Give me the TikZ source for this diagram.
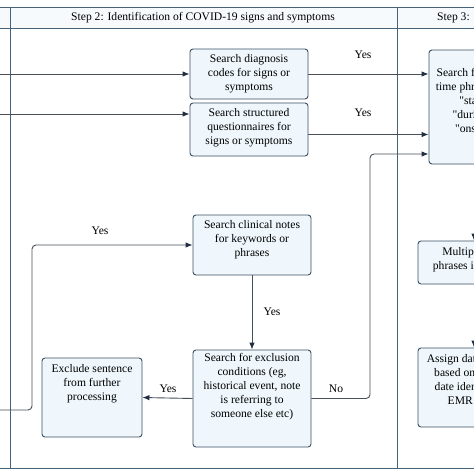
\documentclass[tikz,border=0pt]{standalone}
\usepackage{fontspec}
\setmainfont{Liberation Serif}[Ligatures=TeXOff]
\usetikzlibrary{arrows.meta,positioning}
\definecolor{frameline}{RGB}{68,98,122}
\definecolor{hdrfill}{RGB}{246,250,253}
\definecolor{boxfill}{RGB}{239,247,252}
\definecolor{boxline}{RGB}{60,80,98}
\definecolor{flowline}{RGB}{72,80,90}
\definecolor{headclr}{RGB}{32,46,66}
\begin{document}
\begin{tikzpicture}[x=1pt,y=1pt,yscale=-1,
  box/.style={draw=boxline,fill=boxfill,rounded corners=3pt,line width=0.9pt,inner sep=0pt},
  txt/.style={align=center,inner sep=0pt,font=\fontsize{11.6}{14}\selectfont},
  lbl/.style={inner sep=0pt,font=\fontsize{11.6}{14}\selectfont},
  flow/.style={draw=flowline,line width=0.9pt,-{Latex[length=7pt,width=5.5pt,color=headclr]}},
  frame/.style={draw=frameline,line width=0.9pt}]
\useasboundingbox (0,0) rectangle (474,474);
\clip (0,0) rectangle (474,474);
\fill[white] (0,0) rectangle (474,474);
% swimlane frame
\fill[hdrfill] (-5,7) rectangle (480,28);
\draw[frame] (-5,7) -- (480,7);
\draw[frame] (-5,28) -- (480,28);
\draw[frame] (-5,468) -- (480,468);
\draw[frame] (10,7) -- (10,468);
\draw[frame] (397,7) -- (397,468);
\node[lbl] (hdrTwo) at (203,17.5) {Step 2: Identification of COVID-19 signs and symptoms};
\node[lbl,anchor=west] (hdrThree) at (437,17.5) {Step 3: Identification of dates};
% boxes of step 2
\node[box,minimum width=118,minimum height=50] (diag) at (249,74) {};
\node[txt] (diagText) at (249,74) {Search diagnosis\\codes for signs or\\symptoms};
\node[box,minimum width=118,minimum height=53] (quest) at (249,129.5) {};
\node[txt] (questText) at (249,127.5) {Search structured\\questionnaires for\\signs or symptoms};
\node[box,minimum width=118,minimum height=60] (notes) at (252,245) {};
\node[txt] (notesText) at (252,240) {Search clinical notes\\for keywords or\\phrases};
\node[box,minimum width=118,minimum height=97] (excl) at (252,398.5) {};
\node[txt] (exclText) at (252,386.5) {Search for exclusion\\conditions (eg,\\historical event, note\\is referring to\\someone else etc)};
\node[box,minimum width=100,minimum height=79] (drop) at (92,397.5) {};
\node[txt] (dropText) at (92,384) {Exclude sentence\\from further\\processing};
% boxes of step 3
\node[box,minimum width=90,minimum height=114] (timeph) at (474,107) {};
\node[txt] (timephText) at (474,102) {Search for dates\\time phrases (eg\\"start"\\"during",\\"onset")};
\node[box,minimum width=112,minimum height=43] (multi) at (474,262.5) {};
\node[txt] (multiText) at (474,259.5) {Multiple time\\phrases identified};
\node[box,minimum width=112,minimum height=79] (assign) at (474,387.5) {};
\node[txt] (assignText) at (474,379) {Assign date of onset\\based on the first\\date identified in\\EMR notes};
% connectors
\coordinate (fromDiag) at (-20,74);
\coordinate (fromQuest) at (-20,114);
\coordinate (fromNotes) at (-20,410);
\coordinate (noBend) at (370,154);
\draw[flow] (fromDiag) -- (diag.west);
\draw[flow] (fromQuest) -- (fromQuest -| quest.west);
\draw[flow] (diag.east) -- (diag.east -| timeph.west);
\draw[flow] ([yshift=5pt]quest.east) -- ([yshift=5pt]quest.east -| timeph.west);
\draw[flow,rounded corners=4pt] (fromNotes) -- (32,410) |- (notes.west);
\draw[flow] (notes.south) -- (excl.north);
\draw[flow] (excl.west) -- (drop.east);
\draw[flow,rounded corners=4pt] (excl.east) -| (noBend) -- (noBend -| timeph.west);
\draw[flow] (timeph.south) -- (multi.north);
\draw[flow] (multi.south) -- (assign.north);
% labels
\node[lbl] (yesDiag) at (363,55) {Yes};
\node[lbl] (yesQuest) at (363,113) {Yes};
\node[lbl] (yesNotes) at (100,231) {Yes};
\node[lbl] (yesExcl) at (272,312) {Yes};
\node[lbl] (yesDrop) at (168,389) {Yes};
\node[lbl] (noExcl) at (336,389) {No};
\end{tikzpicture}
\end{document}
